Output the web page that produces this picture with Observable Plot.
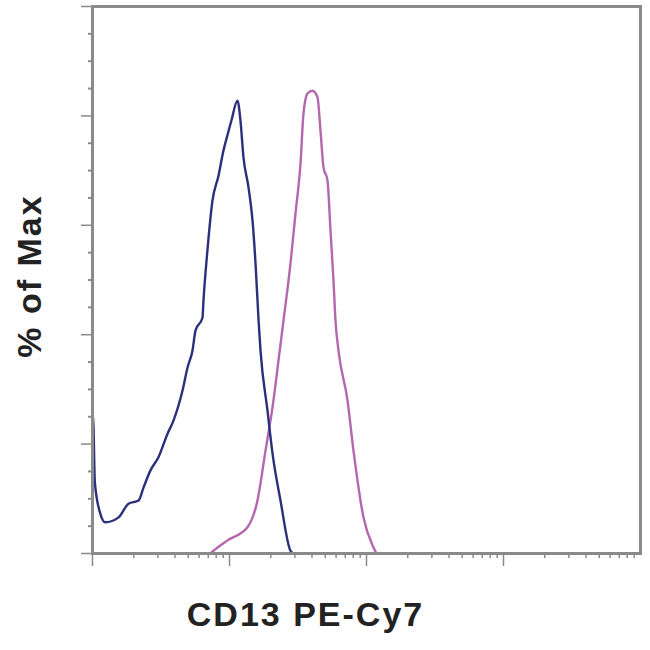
<!DOCTYPE html>
<html>
<head>
<meta charset="utf-8">
<script src="https://cdn.jsdelivr.net/npm/d3@7"></script>
<script src="https://cdn.jsdelivr.net/npm/@observablehq/plot@0.6"></script>
<style>
  html, body { margin: 0; padding: 0; background: #fff; }
  #chart { width: 650px; height: 650px; }
</style>
</head>
<body>
<div id="chart"></div>
<script>
// Unstained / isotype control (blue) histogram
const blueX = [100, 101, 104, 114, 124, 155, 183, 217, 236, 265, 303, 353, 390, 454, 494, 537, 565, 635, 646, 690, 751, 832, 904, 967, 1034, 1143, 1202, 1265, 1377, 1472, 1549, 1630, 1684, 1894, 2060, 2356, 2786, 2930];
const blueY = [0, 24.9, 13, 7.3, 5.7, 6.6, 9.1, 9.7, 12.1, 15.2, 17.6, 21.9, 24.3, 29.8, 34.0, 37.1, 40.8, 43.1, 46.3, 55.4, 64.5, 69.1, 73.7, 76.5, 79.2, 82.8, 79.2, 72.4, 66.9, 60.9, 53.0, 42.6, 37.1, 26.1, 18.3, 9.7, 0.5, 0];

// CD13 PE-Cy7 stained (magenta) histogram
const magX = [727, 764, 967, 1352, 1600, 1832, 2060, 2279, 2479, 2786, 3033, 3298, 3467, 3709, 4036, 4389, 4615, 4855, 5192, 5461, 5742, 5937, 6246, 7266, 8036, 9509, 11250, 11830];
const magY = [0, 0.5, 2.4, 4.8, 9.7, 18.8, 26.7, 35.3, 42.6, 53.0, 62.2, 71.3, 80.4, 84.1, 84.6, 83.4, 77.3, 70.6, 68.2, 59.0, 49.9, 42.6, 37.1, 28.0, 18.8, 6.6, 1.1, 0];

const xMajorTicks = [1e2, 1e3, 1e4, 1e5];
const xMinorTicks = [];
for (const d of xMajorTicks) for (let k = 2; k <= 9; k++) xMinorTicks.push(d * k);
const yMajorTicks = [0, 20, 40, 60, 80, 100];
const yMinorTicks = d3.range(5, 100, 5).filter(v => v % 20 !== 0);

const xLabel = "CD13 PE-Cy7";
const yLabel = "% of Max";

const blue = blueX.map((x, i) => ({x, y: blueY[i]}));
const mag = magX.map((x, i) => ({x, y: magY[i]}));

const axisColor = "#8a8a8a";
const textStyle = {fontSize: 34, fontWeight: "bold", fill: "#222", textAnchor: "middle", lineAnchor: "middle", fontFamily: "Liberation Sans, Arial, sans-serif"};
const noText = () => "";

const plot = Plot.plot({
  width: 650,
  height: 650,
  marginLeft: 92,
  marginRight: 10,
  marginTop: 6,
  marginBottom: 97,
  style: {background: "#fff"},
  x: {type: "log", domain: [100, 1e6]},
  y: {domain: [0, 100]},
  marks: [
    Plot.line(mag, {x: "x", y: "y", stroke: "#b368ad", strokeWidth: 2.4, curve: "monotone-x"}),
    Plot.line(blue, {x: "x", y: "y", stroke: "#2c2f7c", strokeWidth: 2.4, curve: "monotone-x"}),
    Plot.frame({stroke: axisColor, strokeWidth: 3}),
    Plot.axisX(xMajorTicks, {tickSize: 13, stroke: axisColor, strokeWidth: 1.5, tickFormat: noText, label: null}),
    Plot.axisX(xMinorTicks, {tickSize: 5, stroke: axisColor, strokeWidth: 1.5, tickFormat: noText, label: null}),
    Plot.axisY(yMajorTicks, {tickSize: 11, stroke: axisColor, strokeWidth: 1.5, tickFormat: noText, label: null}),
    Plot.axisY(yMinorTicks, {tickSize: 4, stroke: axisColor, strokeWidth: 2, tickFormat: noText, label: null}),
    Plot.text([xLabel], {frameAnchor: "bottom", dx: -61, dy: 62, text: d => d, ...textStyle}),
    Plot.text([yLabel], {frameAnchor: "left", dx: -62, dy: -4, rotate: -90, text: d => d, ...textStyle})
  ]
});
plot.querySelectorAll("text").forEach(t => t.setAttribute("letter-spacing", "2"));
document.getElementById("chart").appendChild(plot);
</script>
</body>
</html>
